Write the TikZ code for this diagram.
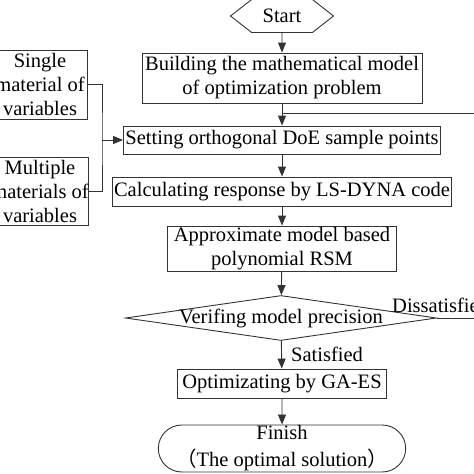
\documentclass[tikz,border=0pt]{standalone}
\usepackage{fontspec}
\setmainfont{Liberation Serif}
\newfontfamily\cjk{Noto Sans CJK SC}
\usetikzlibrary{arrows.meta,shapes.symbols,shapes.geometric,shapes.misc}
\tikzset{
  txt/.style={font=\fontsize{20.5}{24}\selectfont, inner sep=0pt},
  box/.style={txt, shape=rectangle, draw=black!80, line width=0.9pt, align=center},
  flow/.style={draw=black!80, line width=0.9pt, -{Triangle[length=10pt,width=8pt]}},
  link/.style={draw=black!80, line width=0.9pt}
}
\begin{document}
\begin{tikzpicture}[x=1pt,y=-1pt]
      \useasboundingbox (0,0) rectangle (474,474);

      \node[box,shape=signal,signal to=west and east,signal pointer angle=76,
            minimum width=103,minimum height=33] (St) at (282,16) {Start};
      \node[box,minimum width=280,minimum height=50] (B) at (282,78)
            {Building the mathematical model\\of optimization problem};
      \node[box,minimum width=317,minimum height=28] (D) at (282,140)
            {Setting orthogonal DoE sample points};
      \node[box,minimum width=339,minimum height=29] (C) at (282,191.5)
            {Calculating response by LS-DYNA code};
      \node[box,minimum width=229,minimum height=45] (A) at (282,248.5)
            {Approximate model based\\polynomial RSM};
      \node[box,shape=diamond,minimum width=311,minimum height=45,
            label={[txt]center:Verifing model precision}] (V) at (281,318) {};
      \node[box,minimum width=209,minimum height=29] (O) at (282,383.5)
            {Optimizating by GA-ES};
      \node[box,shape=rounded rectangle,minimum width=197,minimum height=47] (F) at (282,448.5)
            {Finish\\[3pt]{\cjk （}The optimal solution{\cjk ）}};

      \node[box,minimum width=94,minimum height=69] (S1) at (40,84.5)
            {Single\\material of\\variables};
      \node[box,minimum width=94,minimum height=68] (M) at (40,191)
            {Multiple\\materials of\\variables};

      \node[txt,anchor=west] (Ds) at (392,305) {Dissatisfied};
      \node[txt,anchor=west] (Sa) at (291,354) {Satisfied};

      \coordinate (J) at (102,140);
      \coordinate (R) at (500,318);
      \coordinate (T) at (282,113);

      \draw[flow] (St) to (B);
      \draw[flow] (B) to (D);
      \draw[flow] (D) to (C);
      \draw[flow] (C) to (A);
      \draw[flow] (A) to (V);
      \draw[flow] (V) to (O);
      \draw[flow] (O) to (F);

      \draw[link] (S1.east) -| (J) |- (M.east);
      \draw[flow] (J) to (D.west);
      \draw[link] (V.east) -- (R) |- (T);
    \end{tikzpicture}
\end{document}
